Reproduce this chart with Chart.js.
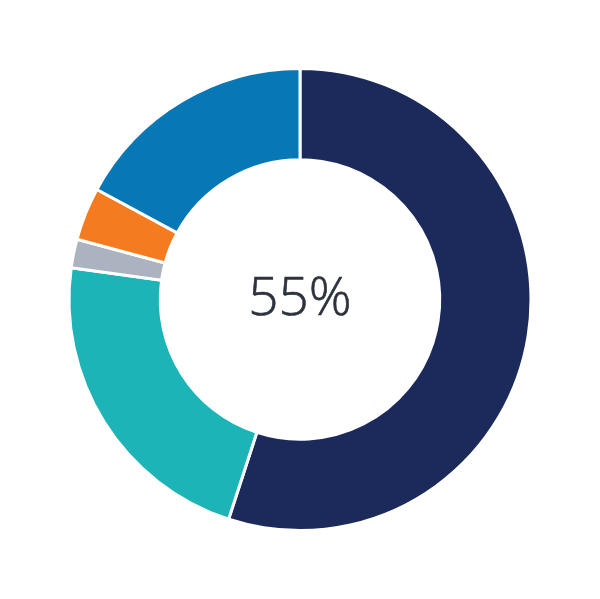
<!DOCTYPE html>
<html>
<head>
<meta charset="utf-8">
<script src="https://cdn.jsdelivr.net/npm/chart.js@4"></script>
<style>
html,body{margin:0;padding:0;background:#fff;}
#wrap{width:600px;height:599px;}
</style>
</head>
<body>
<div id="wrap"><canvas id="c"></canvas></div>
<script>
const labels = ['A', 'B', 'C', 'D', 'E'];
const values = [55, 22.2, 2, 3.7, 17.1];
const colors = ['#1b2a5b', '#1db4b7', '#abb3c1', '#f47b20', '#0777b6'];
const centerText = '55%';

const centerPlugin = {
  id: 'centerText',
  afterDraw(chart) {
    const meta = chart.getDatasetMeta(0);
    const arc = meta.data[0];
    const ctx = chart.ctx;
    ctx.save();
    ctx.font = '300 53px "Open Sans"';
    ctx.fillStyle = '#2c333d';
    ctx.strokeStyle = '#2c333d';
    ctx.lineWidth = 0.6;
    ctx.textAlign = 'center';
    ctx.textBaseline = 'middle';
    ctx.fillText(centerText, arc.x, arc.y);
    ctx.strokeText(centerText, arc.x, arc.y);
    ctx.restore();
  }
};

new Chart(document.getElementById('c'), {
  type: 'doughnut',
  data: {
    labels: labels,
    datasets: [{
      data: values,
      backgroundColor: colors,
      borderColor: '#ffffff',
      borderWidth: 3
    }]
  },
  options: {
    responsive: true,
    maintainAspectRatio: false,
    animation: false,
    cutout: '60.5%',
    layout: { padding: 67 },
    plugins: {
      legend: { display: false },
      tooltip: { enabled: false }
    }
  },
  plugins: [centerPlugin]
});
</script>
</body>
</html>
